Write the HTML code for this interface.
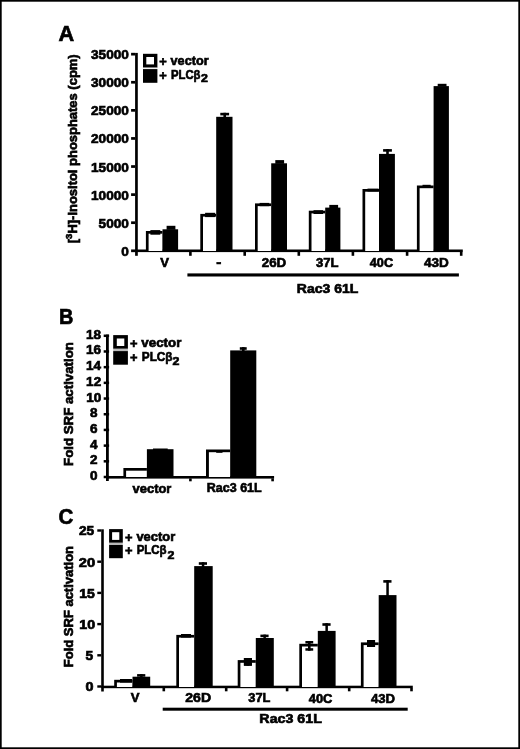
<!DOCTYPE html>
<html><head><meta charset="utf-8"><title>Figure</title>
<style>
html,body{margin:0;padding:0;background:#fff;}
body{width:520px;height:749px;overflow:hidden;}
svg{display:block;}
svg text{font-family:'Liberation Sans',Arial,sans-serif;font-weight:bold;fill:#000;stroke:#000;stroke-width:0.65px;}
</style></head><body>
<svg width="520" height="749" viewBox="0 0 520 749">
<rect x="0" y="0" width="520" height="749" fill="#fff"/>
<text transform="translate(58.48,40.50) scale(1.0090,1)" font-size="21.5">A</text>
<rect x="135.10" y="52.90" width="2.70" height="202.90" fill="#000"/>
<rect x="131.10" y="249.45" width="4.00" height="2.70" fill="#000"/>
<text transform="translate(121.34,255.80) scale(1.0500,1)" font-size="13">0</text>
<rect x="131.10" y="221.36" width="4.00" height="2.70" fill="#000"/>
<text transform="translate(98.57,227.71) scale(1.0500,1)" font-size="13">5000</text>
<rect x="131.10" y="193.27" width="4.00" height="2.70" fill="#000"/>
<text transform="translate(90.97,199.62) scale(1.0500,1)" font-size="13">10000</text>
<rect x="131.10" y="165.18" width="4.00" height="2.70" fill="#000"/>
<text transform="translate(90.97,171.53) scale(1.0500,1)" font-size="13">15000</text>
<rect x="131.10" y="137.09" width="4.00" height="2.70" fill="#000"/>
<text transform="translate(90.97,143.44) scale(1.0500,1)" font-size="13">20000</text>
<rect x="131.10" y="109.00" width="4.00" height="2.70" fill="#000"/>
<text transform="translate(90.97,115.35) scale(1.0500,1)" font-size="13">25000</text>
<rect x="131.10" y="80.91" width="4.00" height="2.70" fill="#000"/>
<text transform="translate(90.97,87.26) scale(1.0500,1)" font-size="13">30000</text>
<rect x="131.10" y="52.82" width="4.00" height="2.70" fill="#000"/>
<text transform="translate(90.97,59.17) scale(1.0500,1)" font-size="13">35000</text>
<rect x="135.10" y="249.50" width="327.70" height="2.60" fill="#000"/>
<rect x="189.10" y="252.00" width="2.60" height="3.80" fill="#000"/>
<rect x="243.40" y="252.00" width="2.60" height="3.80" fill="#000"/>
<rect x="297.50" y="252.00" width="2.60" height="3.80" fill="#000"/>
<rect x="351.60" y="252.00" width="2.60" height="3.80" fill="#000"/>
<rect x="405.80" y="252.00" width="2.60" height="3.80" fill="#000"/>
<rect x="459.90" y="252.00" width="2.60" height="3.80" fill="#000"/>
<rect x="145.90" y="231.00" width="16.60" height="20.00" fill="#000"/>
<rect x="148.60" y="233.70" width="13.90" height="17.30" fill="#fff"/>
<rect x="162.50" y="229.30" width="15.60" height="21.70" fill="#000"/>
<rect x="166.60" y="225.80" width="8.80" height="4.00" fill="#000"/>
<rect x="200.30" y="213.90" width="15.90" height="37.10" fill="#000"/>
<rect x="203.00" y="216.60" width="13.20" height="34.40" fill="#fff"/>
<rect x="216.20" y="116.80" width="16.30" height="134.20" fill="#000"/>
<rect x="220.30" y="112.80" width="8.80" height="2.60" fill="#000"/>
<rect x="223.40" y="112.80" width="2.60" height="5.00" fill="#000"/>
<rect x="255.00" y="203.40" width="16.20" height="47.60" fill="#000"/>
<rect x="257.70" y="206.10" width="13.50" height="44.90" fill="#fff"/>
<rect x="271.20" y="163.30" width="15.80" height="87.70" fill="#000"/>
<rect x="275.30" y="160.10" width="8.80" height="3.70" fill="#000"/>
<rect x="308.80" y="210.70" width="16.40" height="40.30" fill="#000"/>
<rect x="311.50" y="213.40" width="13.70" height="37.60" fill="#fff"/>
<rect x="325.20" y="207.60" width="15.20" height="43.40" fill="#000"/>
<rect x="329.30" y="204.90" width="8.80" height="3.20" fill="#000"/>
<rect x="362.50" y="189.00" width="16.50" height="62.00" fill="#000"/>
<rect x="365.20" y="191.70" width="13.80" height="59.30" fill="#fff"/>
<rect x="379.00" y="153.90" width="15.90" height="97.10" fill="#000"/>
<rect x="383.10" y="149.10" width="8.80" height="2.60" fill="#000"/>
<rect x="386.20" y="149.10" width="2.60" height="5.80" fill="#000"/>
<rect x="416.90" y="185.50" width="16.70" height="65.50" fill="#000"/>
<rect x="419.60" y="188.20" width="14.00" height="62.80" fill="#fff"/>
<rect x="433.60" y="86.10" width="15.30" height="164.90" fill="#000"/>
<rect x="437.70" y="83.80" width="8.80" height="2.80" fill="#000"/>
<rect x="150.40" y="230.10" width="9.90" height="4.60" fill="#000"/>
<rect x="205.10" y="212.80" width="10.10" height="4.30" fill="#000"/>
<rect x="259.60" y="202.90" width="9.60" height="3.30" fill="#000"/>
<rect x="313.50" y="210.20" width="9.60" height="3.80" fill="#000"/>
<rect x="367.50" y="188.60" width="11.10" height="2.90" fill="#000"/>
<rect x="422.50" y="184.80" width="8.20" height="3.20" fill="#000"/>
<rect x="143.00" y="53.80" width="14.40" height="13.90" fill="#000"/>
<rect x="146.30" y="57.00" width="7.70" height="7.40" fill="#fff"/>
<rect x="143.00" y="67.70" width="14.40" height="1.40" fill="#f0f0f0"/>
<rect x="143.00" y="69.10" width="14.40" height="13.70" fill="#000"/>
<text transform="translate(159.18,65.80) scale(0.9893,1)" font-size="13">+</text>
<text transform="translate(159.18,79.80) scale(0.9893,1)" font-size="13">+</text>
<text transform="translate(170.58,64.80) scale(0.9737,1)" font-size="13">vector</text>
<text transform="translate(170.97,78.80) scale(0.8719,1)" font-size="13">PLC&#946;</text>
<text transform="translate(200.90,82.10) scale(1.2118,1)" font-size="10.2">2</text>
<text transform="translate(160.13,267.20) scale(1.0071,1)" font-size="13">V</text>
<text transform="translate(216.23,266.80) scale(1.1667,1)" font-size="13">-</text>
<text transform="translate(261.76,267.20) scale(1.0263,1)" font-size="13">26D</text>
<text transform="translate(316.02,266.80) scale(1.0069,1)" font-size="13">37L</text>
<text transform="translate(369.83,267.00) scale(0.9725,1)" font-size="13">40C</text>
<text transform="translate(423.92,267.20) scale(1.0411,1)" font-size="13">43D</text>
<rect x="187.40" y="273.40" width="271.50" height="3.10" fill="#000"/>
<text transform="translate(296.79,292.50) scale(1.0776,1)" font-size="13">Rac3 61L</text>
<!-- natA 188.06 -->
<text transform="translate(76.7,243.20) rotate(-90) scale(0.9983,1)" font-size="13">[<tspan font-size="9.5" dy="-4.7">3</tspan><tspan dy="4.7">H]-Inositol phosphates (cpm)</tspan></text>
<text transform="translate(59.09,323.90) scale(0.9268,1)" font-size="21.5">B</text>
<rect x="106.00" y="334.60" width="2.80" height="146.40" fill="#000"/>
<rect x="103.70" y="475.75" width="5.40" height="2.50" fill="#000"/>
<text transform="translate(90.05,480.00) scale(1.0400,1)" font-size="13">0</text>
<rect x="103.70" y="460.06" width="5.40" height="2.50" fill="#000"/>
<text transform="translate(90.08,464.31) scale(1.0400,1)" font-size="13">2</text>
<rect x="103.70" y="444.37" width="5.40" height="2.50" fill="#000"/>
<text transform="translate(89.97,448.62) scale(1.0400,1)" font-size="13">4</text>
<rect x="103.70" y="428.68" width="5.40" height="2.50" fill="#000"/>
<text transform="translate(90.04,432.93) scale(1.0400,1)" font-size="13">6</text>
<rect x="103.70" y="412.99" width="5.40" height="2.50" fill="#000"/>
<text transform="translate(90.04,417.24) scale(1.0400,1)" font-size="13">8</text>
<rect x="103.70" y="397.30" width="5.40" height="2.50" fill="#000"/>
<text transform="translate(86.13,401.55) scale(1.0400,1)" font-size="13">10</text>
<rect x="103.70" y="381.61" width="5.40" height="2.50" fill="#000"/>
<text transform="translate(86.12,385.86) scale(1.0400,1)" font-size="13">12</text>
<rect x="103.70" y="365.92" width="5.40" height="2.50" fill="#000"/>
<text transform="translate(85.89,370.17) scale(1.0400,1)" font-size="13">14</text>
<rect x="103.70" y="350.23" width="5.40" height="2.50" fill="#000"/>
<text transform="translate(86.10,354.48) scale(1.0400,1)" font-size="13">16</text>
<rect x="103.70" y="334.54" width="5.40" height="2.50" fill="#000"/>
<text transform="translate(86.06,338.79) scale(1.0400,1)" font-size="13">18</text>
<rect x="106.00" y="476.00" width="168.10" height="2.60" fill="#000"/>
<rect x="189.10" y="478.40" width="2.60" height="2.90" fill="#000"/>
<rect x="271.30" y="478.40" width="2.60" height="2.90" fill="#000"/>
<rect x="123.40" y="468.00" width="23.50" height="9.00" fill="#000"/>
<rect x="126.10" y="470.70" width="20.80" height="6.30" fill="#fff"/>
<rect x="146.90" y="449.20" width="26.60" height="27.80" fill="#000"/>
<rect x="153.00" y="448.50" width="14.70" height="2.00" fill="#000"/>
<rect x="206.00" y="449.50" width="24.20" height="27.50" fill="#000"/>
<rect x="208.90" y="452.20" width="21.30" height="24.80" fill="#fff"/>
<rect x="216.20" y="451.50" width="6.30" height="1.30" fill="#000"/>
<rect x="230.20" y="350.40" width="26.10" height="126.60" fill="#000"/>
<rect x="239.80" y="347.20" width="6.90" height="2.60" fill="#000"/>
<rect x="242.00" y="347.20" width="2.60" height="3.80" fill="#000"/>
<rect x="113.20" y="335.10" width="14.70" height="13.70" fill="#000"/>
<rect x="116.80" y="338.50" width="7.50" height="7.50" fill="#fff"/>
<rect x="113.20" y="348.80" width="14.70" height="2.30" fill="#bcbcbc"/>
<rect x="113.20" y="351.10" width="14.70" height="13.60" fill="#000"/>
<text transform="translate(129.98,347.70) scale(0.9893,1)" font-size="13">+</text>
<text transform="translate(129.98,361.60) scale(0.9893,1)" font-size="13">+</text>
<text transform="translate(141.37,346.70) scale(1.0253,1)" font-size="13">vector</text>
<text transform="translate(141.84,360.60) scale(0.9056,1)" font-size="13">PLC&#946;</text>
<text transform="translate(172.50,364.60) scale(1.2118,1)" font-size="10.2">2</text>
<text transform="translate(132.58,492.50) scale(0.9943,1)" font-size="13">vector</text>
<text transform="translate(206.79,492.30) scale(0.9629,1)" font-size="13">Rac3 61L</text>
<text transform="translate(72.90,465.96) rotate(-90) scale(1.0225,1)" font-size="13">Fold SRF activation</text>
<text transform="translate(58.58,524.00) scale(0.9566,1)" font-size="21.5">C</text>
<rect x="101.20" y="529.30" width="2.60" height="162.20" fill="#000"/>
<rect x="97.30" y="685.30" width="3.90" height="2.40" fill="#000"/>
<rect x="97.30" y="654.10" width="3.90" height="2.40" fill="#000"/>
<rect x="97.30" y="622.90" width="3.90" height="2.40" fill="#000"/>
<rect x="97.30" y="591.70" width="3.90" height="2.40" fill="#000"/>
<rect x="97.30" y="560.50" width="3.90" height="2.40" fill="#000"/>
<rect x="97.30" y="529.30" width="3.90" height="2.40" fill="#000"/>
<text transform="translate(78.95,535.30) scale(1.1014,1)" font-size="12.5">25</text>
<text transform="translate(78.72,566.90) scale(1.1767,1)" font-size="12.5">20</text>
<text transform="translate(79.24,598.00) scale(1.1246,1)" font-size="12.5">15</text>
<text transform="translate(79.23,628.80) scale(1.1389,1)" font-size="12.5">10</text>
<text transform="translate(85.59,660.20) scale(1.1031,1)" font-size="12.5">5</text>
<text transform="translate(85.46,691.00) scale(1.1513,1)" font-size="12.5">0</text>
<rect x="101.20" y="685.70" width="311.60" height="2.50" fill="#000"/>
<rect x="162.50" y="688.00" width="2.60" height="3.30" fill="#000"/>
<rect x="224.90" y="688.00" width="2.60" height="3.30" fill="#000"/>
<rect x="285.80" y="688.00" width="2.60" height="3.30" fill="#000"/>
<rect x="347.90" y="688.00" width="2.60" height="3.30" fill="#000"/>
<rect x="410.20" y="688.00" width="2.60" height="3.30" fill="#000"/>
<rect x="114.20" y="679.80" width="18.30" height="7.20" fill="#000"/>
<rect x="116.90" y="682.50" width="15.60" height="4.50" fill="#fff"/>
<rect x="132.50" y="676.70" width="17.70" height="10.30" fill="#000"/>
<rect x="137.10" y="674.10" width="8.20" height="2.60" fill="#000"/>
<rect x="140.10" y="674.10" width="2.50" height="3.60" fill="#000"/>
<rect x="176.30" y="634.90" width="17.90" height="52.10" fill="#000"/>
<rect x="179.00" y="637.60" width="15.20" height="49.40" fill="#fff"/>
<rect x="194.20" y="566.10" width="18.50" height="120.90" fill="#000"/>
<rect x="198.80" y="562.20" width="8.20" height="2.60" fill="#000"/>
<rect x="201.80" y="562.20" width="2.50" height="4.90" fill="#000"/>
<rect x="237.70" y="660.10" width="18.10" height="26.90" fill="#000"/>
<rect x="240.40" y="662.80" width="15.40" height="24.20" fill="#fff"/>
<rect x="255.80" y="638.00" width="18.00" height="49.00" fill="#000"/>
<rect x="260.40" y="634.60" width="8.20" height="2.60" fill="#000"/>
<rect x="263.40" y="634.60" width="2.50" height="4.40" fill="#000"/>
<rect x="299.30" y="643.80" width="18.50" height="43.20" fill="#000"/>
<rect x="302.00" y="646.50" width="15.80" height="40.50" fill="#fff"/>
<rect x="317.80" y="630.90" width="17.80" height="56.10" fill="#000"/>
<rect x="322.40" y="623.20" width="8.20" height="2.60" fill="#000"/>
<rect x="325.40" y="623.20" width="2.50" height="8.70" fill="#000"/>
<rect x="360.90" y="642.40" width="17.80" height="44.60" fill="#000"/>
<rect x="363.60" y="645.10" width="15.10" height="41.90" fill="#fff"/>
<rect x="378.70" y="595.10" width="17.80" height="91.90" fill="#000"/>
<rect x="383.30" y="580.10" width="8.20" height="2.60" fill="#000"/>
<rect x="386.30" y="580.10" width="2.50" height="16.00" fill="#000"/>
<rect x="120.00" y="679.00" width="12.10" height="3.60" fill="#000"/>
<rect x="181.00" y="634.00" width="10.00" height="3.60" fill="#000"/>
<rect x="243.90" y="658.00" width="8.00" height="2.60" fill="#000"/>
<rect x="243.90" y="663.10" width="8.00" height="2.60" fill="#000"/>
<rect x="246.60" y="658.00" width="2.60" height="7.70" fill="#000"/>
<rect x="243.90" y="658.00" width="8.00" height="7.70" fill="#000"/>
<rect x="305.40" y="641.00" width="7.80" height="2.50" fill="#000"/>
<rect x="305.40" y="648.20" width="7.80" height="2.50" fill="#000"/>
<rect x="308.00" y="641.00" width="2.60" height="9.70" fill="#000"/>
<rect x="367.00" y="640.00" width="8.10" height="7.00" fill="#000"/>
<rect x="109.10" y="529.10" width="13.70" height="13.70" fill="#000"/>
<rect x="112.10" y="532.20" width="7.20" height="7.70" fill="#fff"/>
<rect x="109.10" y="542.80" width="13.70" height="2.20" fill="#b8b8b8"/>
<rect x="109.10" y="545.00" width="13.70" height="13.20" fill="#000"/>
<text transform="translate(124.98,541.60) scale(0.9893,1)" font-size="13">+</text>
<text transform="translate(124.98,554.80) scale(0.9893,1)" font-size="13">+</text>
<text transform="translate(136.38,540.60) scale(0.9969,1)" font-size="13">vector</text>
<text transform="translate(136.66,553.80) scale(0.8811,1)" font-size="13">PLC&#946;</text>
<text transform="translate(167.50,558.50) scale(1.2118,1)" font-size="10.2">2</text>
<text transform="translate(130.63,702.00) scale(1.0071,1)" font-size="13">V</text>
<text transform="translate(185.24,702.30) scale(1.0832,1)" font-size="13">26D</text>
<text transform="translate(248.33,702.30) scale(0.9885,1)" font-size="13">37L</text>
<text transform="translate(308.73,702.60) scale(0.9897,1)" font-size="13">40C</text>
<text transform="translate(370.92,702.60) scale(1.0108,1)" font-size="13">43D</text>
<rect x="162.70" y="707.70" width="245.00" height="3.00" fill="#000"/>
<text transform="translate(259.37,723.30) scale(1.0955,1)" font-size="13">Rac3 61L</text>
<text transform="translate(73.40,667.14) rotate(-90) scale(0.9991,1)" font-size="13">Fold SRF activation</text>
<rect x="0.85" y="0.85" width="518.3" height="747.3" fill="none" stroke="#000" stroke-width="1.7"/>
</svg>
</body></html>
